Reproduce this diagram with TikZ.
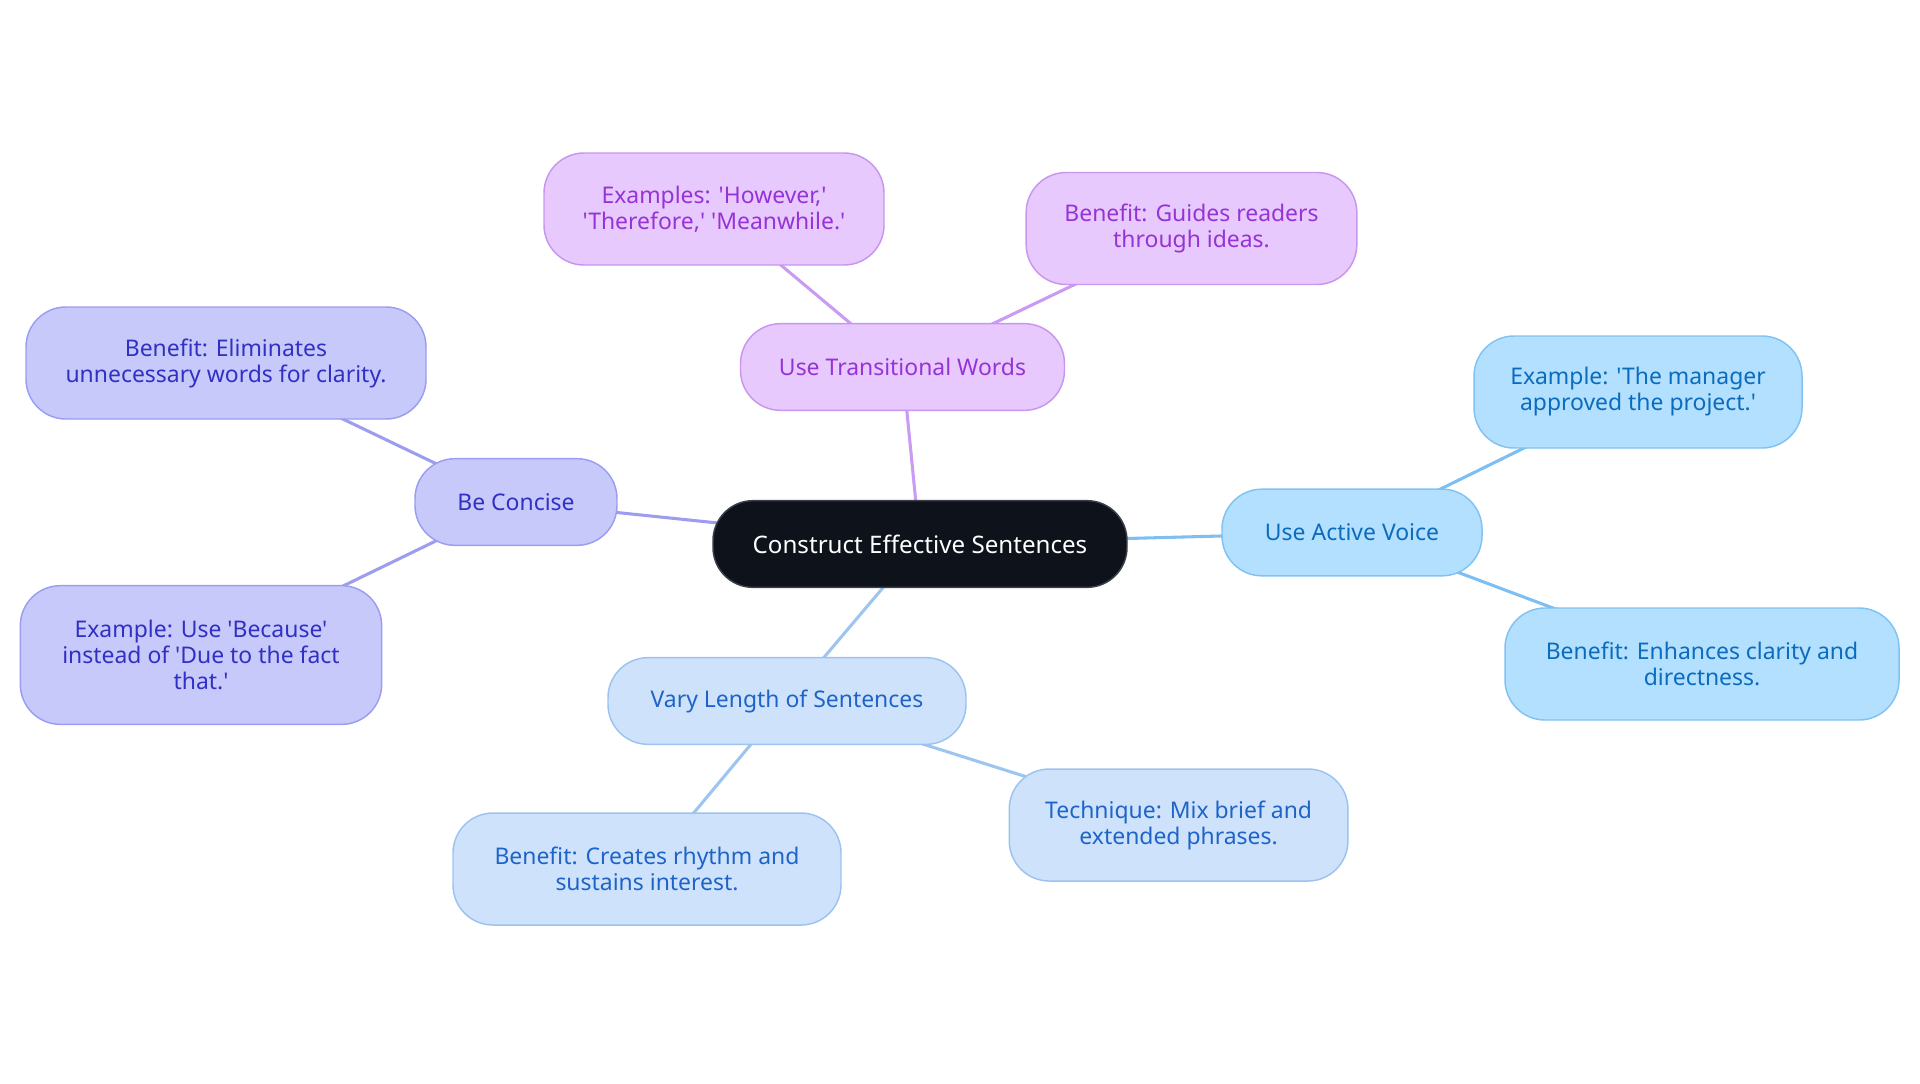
\documentclass[tikz,border=0pt]{standalone}
\usepackage{fontspec}
\setmainfont{Noto Sans}[Ligatures=TeXReset]
\usetikzlibrary{backgrounds}
\definecolor{cfill}{HTML}{0D121B}
\definecolor{cdraw}{HTML}{3B4048}
\definecolor{pfill}{HTML}{E7C9FD}
\definecolor{pdraw}{HTML}{C896EE}
\definecolor{ptext}{HTML}{9633D6}
\definecolor{pedge}{HTML}{C99BF2}
\definecolor{ifill}{HTML}{C8C9FB}
\definecolor{idraw}{HTML}{9B9DF0}
\definecolor{itext}{HTML}{3030C2}
\definecolor{iedge}{HTML}{9D9DF0}
\definecolor{afill}{HTML}{B3E0FF}
\definecolor{adraw}{HTML}{80C2F2}
\definecolor{atext}{HTML}{0B6BBD}
\definecolor{aedge}{HTML}{7EBEF0}
\definecolor{vfill}{HTML}{CEE3FB}
\definecolor{vdraw}{HTML}{9CC3F0}
\definecolor{vtext}{HTML}{1E64C8}
\definecolor{vedge}{HTML}{9EC5F0}
\tikzset{
  box/.style={rectangle, rounded corners=30pt, line width=1.1pt, align=center,
    font=\fontsize{17.2}{19.5}\selectfont, inner sep=0pt},
  one/.style={minimum height=65pt},
  two/.style={minimum height=84pt},
  three/.style={minimum height=104pt},
  cbox/.style={box, fill=cfill, draw=cdraw, text=white, font=\fontsize{18.1}{19.5}\selectfont},
  pbox/.style={box, fill=pfill, draw=pdraw, text=ptext},
  ibox/.style={box, fill=ifill, draw=idraw, text=itext},
  abox/.style={box, fill=afill, draw=adraw, text=atext},
  vbox/.style={box, fill=vfill, draw=vdraw, text=vtext},
  edge/.style={line width=2.3pt},
}
\begin{document}
\begin{tikzpicture}[x=0.75pt,y=-0.75pt]
\useasboundingbox (0,0) rectangle (1920,1083);
\node[cbox, one, minimum width=310.5pt] (c) at (920,544) {Construct Effective Sentences};
\node[pbox, one, minimum width=243pt] (t) at (902.5,367) {Use Transitional Words};
\node[pbox, two, minimum width=255pt] (te) at (714,209) {Examples: 'However,'\\'Therefore,' 'Meanwhile.'};
\node[pbox, two, minimum width=248pt] (tb) at (1191.5,228.5) {Benefit: Guides readers\\through ideas.};
\node[ibox, one, minimum width=151.5pt] (b) at (516,502) {Be Concise};
\node[ibox, two, minimum width=300pt] (bb) at (226,363) {Benefit: Eliminates\\unnecessary words for clarity.};
\node[ibox, three, minimum width=271pt] (be) at (201,655) {Example: Use 'Because'\\instead of 'Due to the fact\\that.'};
\node[abox, one, minimum width=195pt] (a) at (1352,532.5) {Use Active Voice};
\node[abox, two, minimum width=246pt] (ae) at (1638,392) {Example: 'The manager\\approved the project.'};
\node[abox, two, minimum width=295.5pt] (ab) at (1702,664) {Benefit: Enhances clarity and\\directness.};
\node[vbox, one, minimum width=268.5pt] (v) at (787,701) {Vary Length of Sentences};
\node[vbox, two, minimum width=291pt] (vb) at (647,869) {Benefit: Creates rhythm and\\sustains interest.};
\node[vbox, two, minimum width=254pt] (vt) at (1178.6,825) {Technique: Mix brief and\\extended phrases.};
\begin{scope}[on background layer]
\draw[edge, pedge] (c.center) -- (t.center);
\draw[edge, pedge] (t.center) -- (te.center);
\draw[edge, pedge] (t.center) -- (tb.center);
\draw[edge, iedge] (c.center) -- (b.center);
\draw[edge, iedge] (b.center) -- (bb.center);
\draw[edge, iedge] (b.center) -- (be.center);
\draw[edge, aedge] (c.center) -- (a.center);
\draw[edge, aedge] (a.center) -- (ae.center);
\draw[edge, aedge] (a.center) -- (ab.center);
\draw[edge, vedge] (c.center) -- (v.center);
\draw[edge, vedge] (v.center) -- (vb.center);
\draw[edge, vedge] (v.center) -- (vt.center);
\end{scope}
\end{tikzpicture}
\end{document}
